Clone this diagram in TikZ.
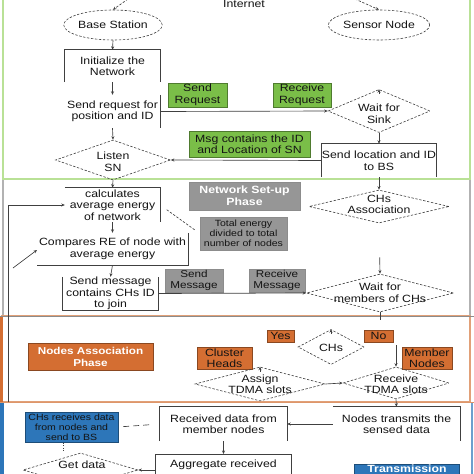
\documentclass[tikz,border=0pt]{standalone}
\usepackage{fontspec}
\setmainfont{Liberation Sans}[FakeStretch=1.17]
\usetikzlibrary{shapes.geometric,arrows.meta}
\definecolor{gfill}{RGB}{122,190,72}
\definecolor{gline}{RGB}{185,225,150}
\definecolor{grfill}{RGB}{150,150,150}
\definecolor{grline}{RGB}{178,178,178}
\definecolor{ofill}{RGB}{212,110,50}
\definecolor{oline}{RGB}{225,160,120}
\definecolor{bfill}{RGB}{45,118,185}
\definecolor{ink}{RGB}{20,20,20}
\begin{document}
\begin{tikzpicture}[x=1pt,y=-1pt,
 txt/.style={font=\fontsize{10.5}{11.5}\selectfont, align=center, text=ink, inner sep=0pt},
 smalltxt/.style={font=\fontsize{9}{10}\selectfont},
 lab/.style={txt, line width=0.5pt},
 glab/.style={lab, fill=gfill, draw=gfill!65!black},
 grlab/.style={lab, fill=grfill, draw=black!45, font=\fontsize{10}{11}\selectfont},
 olab/.style={lab, fill=ofill, draw=ofill!65!black},
 blab/.style={lab, fill=bfill, draw=bfill!65!black},
 phase/.style={text=white, font=\fontsize{10.5}{12}\selectfont\bfseries},
 dsh/.style={dash pattern=on 2.4pt off 1.6pt},
 dia/.style={diamond, draw=black!75, dsh, line width=0.6pt, inner sep=0pt},
 ell/.style={ellipse, draw=black!75, dsh, line width=0.6pt, inner sep=0pt, txt},
 ln/.style={draw=black!75, line width=0.65pt},
 arr/.style={ln, -{Stealth[length=3.5pt,width=3pt]}},
]
\useasboundingbox (0,0) rectangle (474,474);
\fill[white] (0,0) rectangle (474,474);
% region frames
\draw[grline, line width=1.2pt] (3,179) rectangle (470,316);
\draw[gline, line width=1.6pt] (3,-5) rectangle (470,179);
\draw[oline, line width=1.2pt] (2,316) rectangle (470,402);
\fill[ofill] (0,316) rectangle (3,402);
\draw[black!45, line width=0.8pt] (0,316) -- (474,316);
\draw[bfill!70, line width=1.2pt] (472,402) -- (472,480);
\fill[bfill] (0,402) rectangle (3.5,474);
\draw[oline!80!ofill, line width=1.4pt] (0,402.5) -- (474,402.5);

% ---------- top phase ----------
\node[txt] (internet) at (244,4) {Internet};
\node[ell, minimum width=90, minimum height=30] (bs) at (113,25) {Base Station};
\node[ell, minimum width=87, minimum height=30] (sn) at (379,25) {Sensor Node};
\coordinate (ia) at (128,-1);
\coordinate (ib) at (355,-1);
\draw[arr,dsh] (ia) -- (bs.north);
\draw[arr,dsh] (ib) -- (sn.north);

\node[txt, minimum width=95, minimum height=32] (init) at (112.5,66) {Initialize the\\Network};
\draw[ln] (init.south west) -- (init.north west) -- (init.north east) -- (init.south east);
\node[txt, minimum width=95, minimum height=33] (req) at (112.5,111.5) {Send request for\\position and ID};
\draw[ln] (req.north east) -- (req.south east);
\node[dia, minimum width=115, minimum height=40] (listen) at (113,160) {};
\node[txt] (listent) at (113,161.5) {Listen\\SN};
\node[dia, minimum width=102, minimum height=43] (wsink) at (379,111) {};
\node[txt] (wsinkt) at (379,113.5) {Wait for\\Sink};
\node[txt, minimum width=112, minimum height=33] (sloc) at (379,160.5) {Send location and ID\\to BS};
\draw[ln] (sloc.south west) -- (sloc.north west) -- (sloc.north east) -- (sloc.south east);
\node[glab, minimum width=59, minimum height=24] (gsend) at (197.5,95) {Send\\Request};
\node[glab, minimum width=58, minimum height=24] (grecv) at (302,95) {Receive\\Request};
\node[glab, minimum width=121, minimum height=26] (gmsg) at (249.5,144) {Msg contains the ID\\and Location of SN};

\draw[arr] (bs.south) -- (init.north);
\draw[arr] (init.south) -- (req.north);
\draw[arr] (req.south) -- (listen.north);
\draw[arr] (req.east) -- (wsink.west);
\draw[arr] (wsink.south) -- (sloc.north);
\draw[arr] (sloc.west) -- (listen.east);
\draw[arr] (wsink.north) ++(0,5) -- (wsink.north);

% ---------- set-up phase ----------
\node[grlab, phase, minimum width=111, minimum height=28] (netph) at (244.5,196) {Network Set-up\\Phase};
\node[txt, minimum width=95, minimum height=34] (calc) at (112.5,205) {calculates\\average energy\\of network};
\draw[ln] (calc.north west) -- (calc.north east) -- (calc.south east);
\node[txt, minimum width=151, minimum height=32] (comp) at (112.5,249) {Compares RE of node with\\average energy};
\draw[ln] (comp.north east) -- (comp.south east) -- (comp.south west);
\node[txt, minimum width=95, minimum height=33] (smsg) at (110.5,293.5) {Send message\\contains CHs ID\\to join};
\draw[ln] (smsg.north west) -- (smsg.south west) -- (smsg.south east) -- (smsg.north east);
\node[grlab, smalltxt, minimum width=87, minimum height=33] (gtot) at (243.5,233.5) {Total energy\\divided to total\\number of nodes};
\node[grlab, minimum width=58, minimum height=23] (gsm) at (194,280.5) {Send\\Message};
\node[grlab, minimum width=56, minimum height=23] (grm) at (277,280.5) {Receive\\Message};
\node[dia, minimum width=140, minimum height=33] (assoc) at (379,206.5) {};
\node[txt] (assoct) at (379,204.5) {CHs\\Association};
\node[dia, minimum width=147, minimum height=38] (wmem) at (380,293) {};
\node[txt] (wmemt) at (380,292.5) {Wait for\\members of CHs};

\draw[arr] (sloc.south) -- (assoc.north);
\draw[arr] (listen.south) -- (calc.north);
\draw[arr] (calc.south) -- (comp.north);
\draw[arr] (comp.south) -- (smsg.north);
\draw[arr] (smsg.east) -- (wmem.west);
\draw[arr, shorten <=34pt] (assoc.south) -- (wmem.north);
\coordinate (wstub) at (380,320);
\draw[ln] (wmem.south) -- (wstub);
\coordinate (fbb) at (8,402);
\draw[arr] (fbb) |- (calc.west);
\coordinate (d1) at (13,268);
\coordinate (d2) at (37,250);
\draw[arr] (d1) -- (d2);
\draw[ln, dsh, shorten <=8pt, shorten >=6pt] (calc.east) -- (gtot.west);

% ---------- association phase ----------
\node[olab, phase, font=\fontsize{10}{12}\selectfont\bfseries, minimum width=125, minimum height=27] (nap) at (90.5,356.5) {Nodes Association\\Phase};
\node[olab, minimum width=27, minimum height=12] (yes) at (280.5,336) {Yes};
\node[olab, minimum width=29, minimum height=12] (no) at (378.5,336) {No};
\node[dia, minimum width=66, minimum height=35] (chs) at (331,347) {};
\node[txt] (chst) at (331,348) {CHs};
\node[olab, minimum width=55, minimum height=22] (ch) at (224.5,358) {Cluster\\Heads};
\node[olab, minimum width=50, minimum height=22] (mn) at (427,358) {Member\\Nodes};
\node[dia, minimum width=130, minimum height=34] (assign) at (260,384) {};
\node[txt] (assignt) at (260,384) {Assign\\TDMA slots};
\node[dia, minimum width=106, minimum height=32] (recv) at (396,383) {};
\node[txt] (recvt) at (396,384) {Receive\\TDMA slots};
\coordinate (nob) at (396,345);
\draw[arr] (nob) -- (recv.north);
\draw[arr] (assign.east) -- (recv.west);
\draw[arr] (chs.north) ++(0,5) -- (chs.north);
\draw[arr] (assign.north) ++(0,5) -- (assign.north);

% ---------- transmission phase ----------
\node[blab, smalltxt, minimum width=93, minimum height=30] (bcr) at (71.5,427) {CHs receives data\\from nodes and\\send to BS};
\node[txt, minimum width=127, minimum height=34] (rdata) at (223.5,424) {Received data from\\member nodes};
\draw[ln] (rdata.south west) -- (rdata.north west) -- (rdata.north east) -- (rdata.south east);
\node[txt, minimum width=127, minimum height=34] (ntx) at (396.5,424) {Nodes transmits the\\sensed data};
\draw[ln] (ntx.north west) -- (ntx.north east) -- (ntx.south east);
\node[txt, minimum width=135, minimum height=22, anchor=north] (agg) at (223.5,454) {Aggregate received};
\draw[ln] (agg.south west) -- (agg.north west) -- (agg.north east) -- (agg.south east);
\node[dia, minimum width=115, minimum height=34] (getd) at (80.5,470) {};
\node[txt] (getdt) at (82,465) {Get data};
\node[blab, phase, minimum width=105, minimum height=9.5, anchor=north] (trans) at (407,464) {Transmission};

\draw[arr] (recv.south) -- (ntx.north);
\draw[arr] (ntx.west) -- (rdata.east);
\draw[arr] (rdata.south) -- (agg.north);
\draw[arr] (agg.west |- getd.east) -- (getd.east);
\draw[ln, dash pattern=on 6pt off 4pt, shorten <=5pt, shorten >=8pt] (bcr.east) -- (rdata.west);
\coordinate (dt1) at (63,442.5);
\coordinate (dt2) at (63,453);
\draw[ln, dotted] (dt1) -- (dt2);
\end{tikzpicture}
\end{document}
